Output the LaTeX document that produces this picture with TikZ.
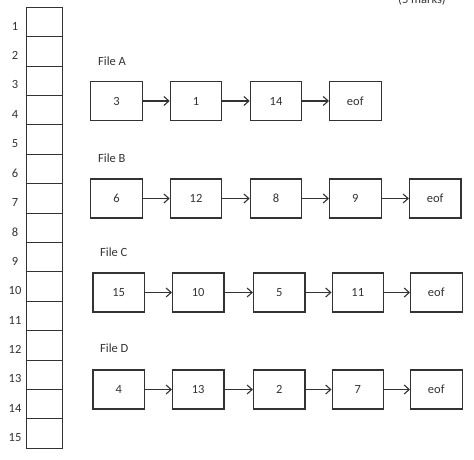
\documentclass[tikz,border=0pt]{standalone}
\usepackage{fontspec}
\setmainfont{Carlito}
\usetikzlibrary{arrows.meta}
\definecolor{ink}{HTML}{333333}
\begin{document}
\begin{tikzpicture}[x=1pt,y=-1pt,
  cellbox/.style={draw=ink, line width=1.1pt, minimum width=36.3pt, minimum height=29.4pt, inner sep=0pt},
  blk/.style={draw=ink, line width=1.1pt, minimum width=51.5pt, minimum height=39pt, inner sep=0pt, font=\fontsize{12.5}{14}\selectfont, text=ink},
  lbl/.style={font=\fontsize{12.5}{14}\selectfont, text=ink, inner sep=0pt},
  link/.style={draw=ink, line width=1.1pt, -{Straight Barb[length=5pt,width=9pt,line width=1.1pt]}}
]
\useasboundingbox (0,0) rectangle (474,460);
\clip (0,0) rectangle (474,460);
\node[lbl, anchor=base] (marks) at (422,3.5) {(5 marks)};
% column of cells
\foreach \i in {1,...,15}{
  \node[cellbox] (c\i) at (44.2,{7.3+29.4*(\i-0.5)}) {};
  \node[lbl] (n\i) at (15,{7.3+29.4*(\i-0.5)+4}) {\i};
}
% File A
\node[lbl, anchor=west] (fa) at (98,61) {File A};
\node[blk] (a1) at (116.5,101) {3};
\node[blk] (a2) at (196,101) {1};
\node[blk] (a3) at (276,101) {14};
\node[blk] (a4) at (355.3,101) {eof};
\draw[link] (a1) -- (a2);
\draw[link] (a2) -- (a3);
\draw[link] (a3) -- (a4);
% File B
\node[lbl, anchor=west] (fb) at (98,158) {File B};
\node[blk] (b1) at (116.5,198.5) {6};
\node[blk] (b2) at (196,198.5) {12};
\node[blk] (b3) at (276,198.5) {8};
\node[blk] (b4) at (355.3,198.5) {9};
\node[blk] (b5) at (435.2,198.5) {eof};
\draw[link] (b1) -- (b2);
\draw[link] (b2) -- (b3);
\draw[link] (b3) -- (b4);
\draw[link] (b4) -- (b5);
% File C
\node[lbl, anchor=west] (fc) at (100,252.7) {File C};
\node[blk] (d1) at (118.7,292.5) {15};
\node[blk] (d2) at (198.2,292.5) {10};
\node[blk] (d3) at (279.2,292.5) {5};
\node[blk] (d4) at (357.8,292.5) {11};
\node[blk] (d5) at (436.3,292.5) {eof};
\draw[link] (d1) -- (d2);
\draw[link] (d2) -- (d3);
\draw[link] (d3) -- (d4);
\draw[link] (d4) -- (d5);
% File D
\node[lbl, anchor=west] (fd) at (100,348.3) {File D};
\node[blk] (e1) at (118.7,389.5) {4};
\node[blk] (e2) at (198.2,389.5) {13};
\node[blk] (e3) at (279.2,389.5) {2};
\node[blk] (e4) at (357.8,389.5) {7};
\node[blk] (e5) at (436.3,389.5) {eof};
\draw[link] (e1) -- (e2);
\draw[link] (e2) -- (e3);
\draw[link] (e3) -- (e4);
\draw[link] (e4) -- (e5);
\end{tikzpicture}
\end{document}
